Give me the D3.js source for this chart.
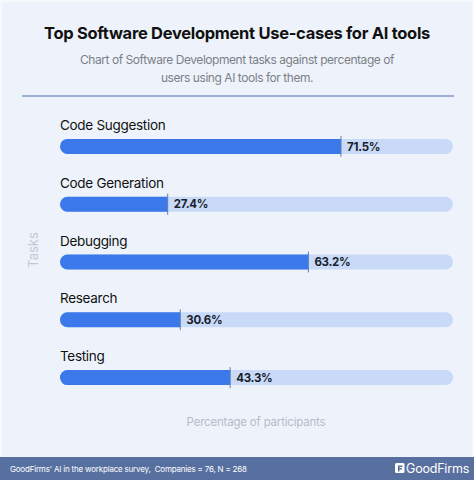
<!DOCTYPE html>
<html>
<head>
<meta charset="utf-8">
<script src="https://cdn.jsdelivr.net/npm/d3@7"></script>
<style>
  html, body { margin: 0; padding: 0; background: #fff; }
  svg { display: block; font-family: Inter, "Noto Sans", sans-serif; }
</style>
</head>
<body>
<div id="chart"></div>
<script>
const tasks = ['Code Suggestion', 'Code Generation', 'Debugging', 'Research', 'Testing']
const percentages = [71.5, 27.4, 63.2, 30.6, 43.3]

const W = 474, H = 480

const svg = d3.select('#chart')
  .append('svg')
  .attr('width', W)
  .attr('height', H)

// panel background
svg.append('rect')
  .attr('width', W).attr('height', H)
  .attr('fill', '#f7f9fd')
svg.append('rect')
  .attr('x', 2).attr('y', 2)
  .attr('width', W - 4).attr('height', H - 2)
  .attr('fill', '#eef3fb')

// title + subtitle
svg.append('text')
  .attr('x', 237).attr('y', 39)
  .attr('text-anchor', 'middle')
  .attr('font-size', 16.5)
  .attr('font-weight', 700)
  .attr('letter-spacing', -0.3)
  .attr('fill', '#111')
  .text('Top Software Development Use-cases for AI tools')

svg.append('text')
  .attr('text-anchor', 'middle')
  .attr('font-size', 12)
  .attr('letter-spacing', -0.45)
  .attr('fill', '#7b7f87')
  .selectAll('tspan')
  .data(['Chart of Software Development tasks against percentage of', 'users using AI tools for them.'])
  .enter()
  .append('tspan')
    .attr('x', 237)
    .attr('y', (d, i) => 64 + i * 18)
    .text(t => t)

svg.append('line')
  .attr('x1', 22).attr('x2', 454)
  .attr('y1', 96).attr('y2', 96)
  .attr('stroke', '#7f9cc6')
  .attr('stroke-width', 1.5)

// scales
const x = d3.scaleLinear()
  .domain([0, 100])
  .range([60, 453])

const y = d3.scaleBand()
  .domain(tasks)
  .range([117.5, 406.5])

const barH = 15

const row = svg.selectAll('.row')
  .data(tasks.map((t, i) => ({ task: t, value: percentages[i] })))
  .enter()
  .append('g')
  .attr('class', 'row')
  .attr('transform', d => `translate(0, ${y(d.task) + y.bandwidth() / 2})`)

row.append('text')
  .attr('x', x(0))
  .attr('y', -barH / 2 - 9)
  .attr('font-size', 13.5)
  .attr('letter-spacing', -0.3)
  .attr('fill', '#111')
  .text(d => d.task)

row.append('rect')
  .attr('x', x(0))
  .attr('y', -barH / 2)
  .attr('width', x(100) - x(0))
  .attr('height', barH)
  .attr('rx', barH / 2)
  .attr('fill', '#c8daf8')

// filled part: rounded left end only
row.append('path')
  .attr('fill', '#3b78ea')
  .attr('d', d => {
    const x0 = x(0), x1 = x(d.value), r = barH / 2
    return `M${x0 + r},${-r} H${x1} V${r} H${x0 + r} A${r},${r} 0 0 1 ${x0 + r},${-r} Z`
  })

row.append('line')
  .attr('x1', d => x(d.value)).attr('x2', d => x(d.value))
  .attr('y1', -barH / 2 - 3).attr('y2', barH / 2 + 3)
  .attr('stroke', '#5c80b8')
  .attr('stroke-width', 1)

row.append('text')
  .attr('x', d => x(d.value) + 6)
  .attr('y', 0)
  .attr('dy', '0.36em')
  .attr('font-size', 11.5)
  .attr('font-weight', 700)
  .attr('letter-spacing', -0.25)
  .attr('fill', '#1b1e2b')
  .text(d => d.value.toFixed(1) + '%')

// axis titles
svg.append('text')
  .attr('transform', 'translate(33, 250) rotate(-90)')
  .attr('dy', '0.35em')
  .attr('text-anchor', 'middle')
  .attr('font-size', 13)
  .attr('fill', '#c3c9d3')
  .text('Tasks')

svg.append('text')
  .attr('x', 256).attr('y', 426)
  .attr('text-anchor', 'middle')
  .attr('font-size', 11.5)
  .attr('letter-spacing', -0.2)
  .attr('fill', '#b5bcc7')
  .text('Percentage of participants')

// footer
const footer = svg.append('g').attr('transform', 'translate(0, 457)')
footer.append('rect')
  .attr('width', W).attr('height', H - 457)
  .attr('fill', '#58709f')

footer.append('text')
  .attr('x', 10).attr('y', 14.5)
  .attr('font-size', 8)
  .attr('letter-spacing', -0.2)
  .attr('fill', '#fff')
  .attr('xml:space', 'preserve')
  .text("GoodFirms' AI in the workplace survey,  Companies = 76, N = 268")

// logo
const logo = footer.append('g').attr('transform', 'translate(395, 6)')
logo.append('rect')
  .attr('width', 9.5).attr('height', 10)
  .attr('rx', 1.5)
  .attr('fill', '#fff')
logo.append('path')
  .attr('d', 'M3,2.5 H7.5 V4 H4.5 V5 H7 V6.5 H4.5 V8.5 H3 Z')
  .attr('fill', '#58709f')
logo.append('text')
  .attr('x', 11).attr('y', 9.5)
  .attr('font-size', 12.5)
  .attr('letter-spacing', -0.2)
  .attr('fill', '#fff')
  .text('GoodFirms')
</script>
</body>
</html>
